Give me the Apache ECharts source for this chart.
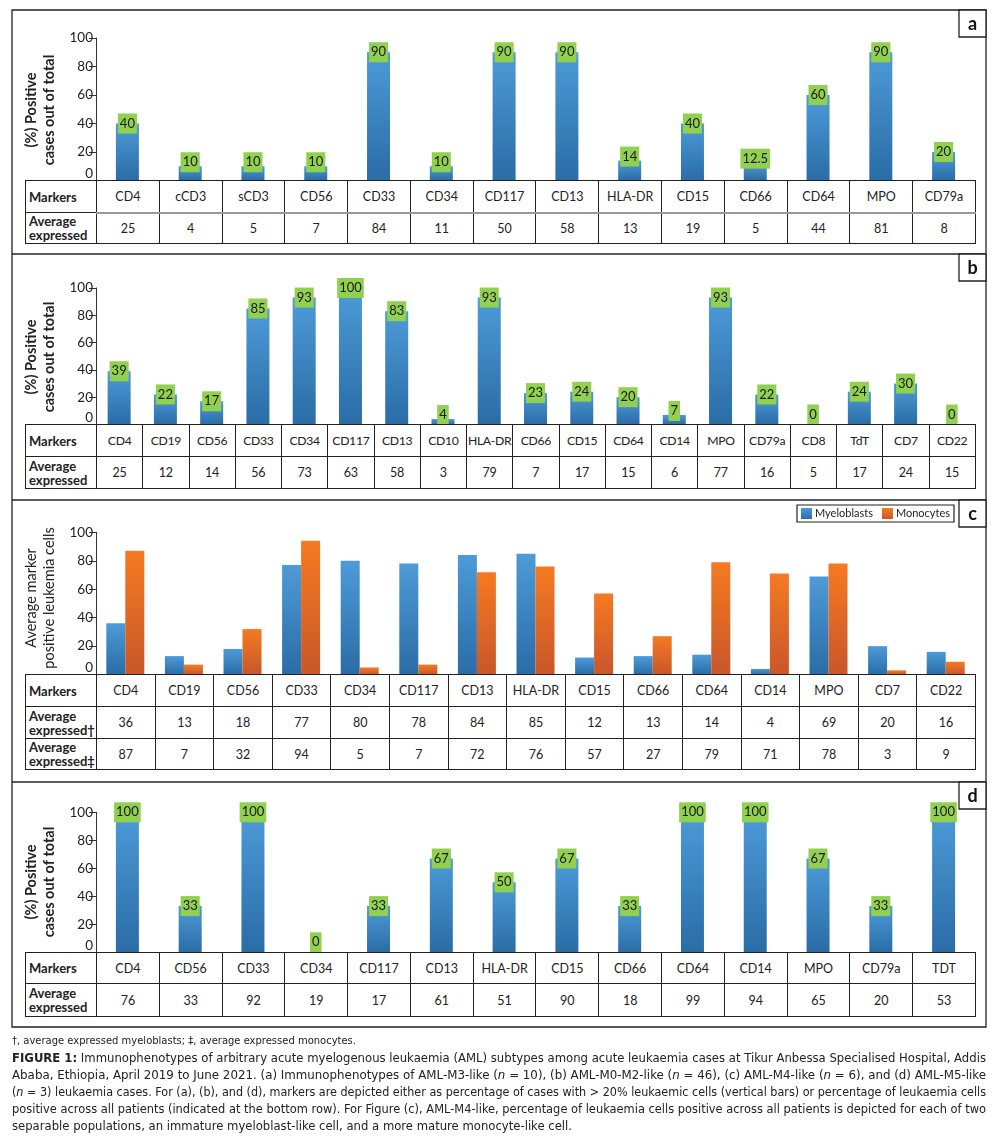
<!DOCTYPE html>
<html>
<head>
<meta charset="utf-8">
<script src="https://cdn.jsdelivr.net/npm/echarts@6/dist/echarts.min.js"></script>
<style>
html, body { margin: 0; padding: 0; background: #fff; }
#wrap { position: relative; width: 1007px; height: 1143px; font-family: Lato, 'Open Sans', sans-serif; color: #222; }
#chart { position: absolute; left: 0; top: 0; width: 1007px; height: 1143px; }
table.mk { position: absolute; left: 25px; border-collapse: collapse; table-layout: fixed; font-size: 12.5px; background: #fff; }
table.mk td { border: 1.3px solid #222; text-align: center; padding: 0; white-space: nowrap; overflow: hidden; }
table.mk td.hd { text-align: left; font-weight: bold; padding-left: 3px; line-height: 14px; font-size: 13px; }
table.mk.tight tr:nth-child(1) td.v { font-size: 12.2px; letter-spacing: -0.3px; }
table.mk.grey tr:nth-child(1) td.v { border-bottom: 2px solid #9a9a9a; }
.note { position: absolute; left: 12px; white-space: nowrap; transform-origin: 0 0; color: #222; font-family: 'Liberation Sans Narrow', 'DejaVu Sans Condensed', 'Noto Sans', sans-serif; font-stretch: condensed; }
</style>
</head>
<body>
<div id="wrap">
  <div id="chart"></div>
</div>
<script>
// panel a: AML-M3-like
const aCats = ['CD4', 'cCD3', 'sCD3', 'CD56', 'CD33', 'CD34', 'CD117', 'CD13', 'HLA-DR', 'CD15', 'CD66', 'CD64', 'MPO', 'CD79a']
const aPos = [40, 10, 10, 10, 90, 10, 90, 90, 14, 40, 12.5, 60, 90, 20]
const aAvg = [25, 4, 5, 7, 84, 11, 50, 58, 13, 19, 5, 44, 81, 8]
// panel b: AML-M0-M2-like
const bCats = ['CD4', 'CD19', 'CD56', 'CD33', 'CD34', 'CD117', 'CD13', 'CD10', 'HLA-DR', 'CD66', 'CD15', 'CD64', 'CD14', 'MPO', 'CD79a', 'CD8', 'TdT', 'CD7', 'CD22']
const bPos = [39, 22, 17, 85, 93, 100, 83, 4, 93, 23, 24, 20, 7, 93, 22, 0, 24, 30, 0]
const bAvg = [25, 12, 14, 56, 73, 63, 58, 3, 79, 7, 17, 15, 6, 77, 16, 5, 17, 24, 15]
// panel c: AML-M4-like
const cCats = ['CD4', 'CD19', 'CD56', 'CD33', 'CD34', 'CD117', 'CD13', 'HLA-DR', 'CD15', 'CD66', 'CD64', 'CD14', 'MPO', 'CD7', 'CD22']
const cMyelo = [36, 13, 18, 77, 80, 78, 84, 85, 12, 13, 14, 4, 69, 20, 16]
const cMono = [87, 7, 32, 94, 5, 7, 72, 76, 57, 27, 79, 71, 78, 3, 9]
// panel d: AML-M5-like
const dCats = ['CD4', 'CD56', 'CD33', 'CD34', 'CD117', 'CD13', 'HLA-DR', 'CD15', 'CD66', 'CD64', 'CD14', 'MPO', 'CD79a', 'TDT']
const dPos = [100, 33, 100, 0, 33, 67, 50, 67, 33, 100, 100, 67, 33, 100]
const dAvg = [76, 33, 92, 19, 17, 61, 51, 90, 18, 99, 94, 65, 20, 53]

const panelLetters = ['a', 'b', 'c', 'd']
const panelTops = [10, 254, 500, 782]
const gridTops = [38, 288, 532.3, 812.3]
const gridHeights = [142.5, 136.5, 142.3, 140]
const yTitles = ['(%) Positive\ncases out of total', '(%) Positive\ncases out of total', 'Average marker\npositive leukemia cells', '(%) Positive\ncases out of total']
const yTitleMid = [110, 357, 598, 882]

const FONT = 'Lato, "Open Sans", sans-serif'
const blueGrad = () => new echarts.graphic.LinearGradient(0, 0, 0, 1, [
  { offset: 0, color: '#4d9bd8' },
  { offset: 1, color: '#2a6ca6' }
])
const orangeGrad = () => new echarts.graphic.LinearGradient(0, 0, 0, 1, [
  { offset: 0, color: '#f57a22' },
  { offset: 1, color: '#c8572a' }
])

// green value boxes sit centred on the bar top, zero values sit on the axis
const withLabels = (vals) => vals.map(v => ({
  value: v,
  label: { distance: v === 0 ? 0 : (v < 15 ? -6 : -10) }
}))
const greenLabel = {
  show: true,
  position: 'top',
  distance: -10,
  backgroundColor: '#92d050',
  padding: [2, 2, 2, 2],
  fontSize: 13,
  lineHeight: 16,
  color: '#1a1a1a',
  fontFamily: FONT
}

const grids = gridTops.map((t, i) => ({ left: 96, right: 32, top: t, height: gridHeights[i] }))
const allCats = [aCats, bCats, cCats, dCats]
const xAxes = allCats.map((c, i) => ({
  type: 'category', gridIndex: i, data: c, show: false
}))
const yAxes = allCats.map((c, i) => ({
  type: 'value', gridIndex: i, min: 0, max: 100, interval: 20,
  axisLine: { show: true, lineStyle: { color: '#333', width: 1 } },
  axisTick: { show: true, length: 7, lineStyle: { color: '#333' } },
  splitLine: { show: false },
  axisLabel: {
    fontSize: 13.5, color: '#222', fontFamily: FONT, margin: 3,
    formatter: v => v === 0 ? '{z|0}' : String(v),
    rich: { z: { fontSize: 13.5, color: '#222', fontFamily: FONT, padding: [0, 0, 14, 0] } }
  }
}))

const series = [
  { type: 'bar', xAxisIndex: 0, yAxisIndex: 0, barWidth: 23, data: withLabels(aPos), itemStyle: { color: blueGrad() }, label: greenLabel },
  { type: 'bar', xAxisIndex: 1, yAxisIndex: 1, barWidth: 23, data: withLabels(bPos), itemStyle: { color: blueGrad() }, label: greenLabel },
  { name: 'Myeloblasts', type: 'bar', xAxisIndex: 2, yAxisIndex: 2, barWidth: 19, barGap: '0%', data: cMyelo, itemStyle: { color: blueGrad() } },
  { name: 'Monocytes', type: 'bar', xAxisIndex: 2, yAxisIndex: 2, barWidth: 19, barGap: '0%', data: cMono, itemStyle: { color: orangeGrad() } },
  { type: 'bar', xAxisIndex: 3, yAxisIndex: 3, barWidth: 23, data: withLabels(dPos), itemStyle: { color: blueGrad() }, label: greenLabel }
]

const graphics = []
// outer frame and panel dividers
graphics.push({ type: 'rect', shape: { x: 12, y: 10, width: 974, height: 1017 }, style: { fill: 'none', stroke: '#222', lineWidth: 1.3 }, z: 10 })
panelTops.slice(1).forEach(t => {
  graphics.push({ type: 'line', shape: { x1: 12, y1: t, x2: 986, y2: t }, style: { stroke: '#222', lineWidth: 1.3 }, z: 10 })
})
panelTops.forEach((t, i) => {
  graphics.push({ type: 'rect', shape: { x: 959, y: t, width: 27, height: 27 }, style: { fill: '#fff', stroke: '#222', lineWidth: 1.3 }, z: 10 })
  graphics.push({ type: 'text', x: 972.5, y: t + 14, z: 11, style: { text: panelLetters[i], fill: '#111', font: 'bold 18px ' + FONT, align: 'center', verticalAlign: 'middle', textAlign: 'center', textVerticalAlign: 'middle' } })
})
yTitles.forEach((txt, i) => {
  const weight = i === 2 ? 'normal' : 'bold'
  graphics.push({
    type: 'text', x: 40, y: yTitleMid[i], rotation: Math.PI / 2, z: 11,
    style: { text: txt, fill: '#222', font: weight + ' 14.5px ' + FONT, lineHeight: 18, align: 'center', verticalAlign: 'middle', textAlign: 'center', textVerticalAlign: 'middle' }
  })
})

const chart = echarts.init(document.getElementById('chart'), null, { renderer: 'canvas' })
chart.setOption({
  animation: false,
  textStyle: { fontFamily: FONT },
  grid: grids,
  xAxis: xAxes,
  yAxis: yAxes,
  legend: {
    data: ['Myeloblasts', 'Monocytes'],
    left: 797, top: 505,
    itemWidth: 11, itemHeight: 11, itemGap: 9,
    icon: 'rect',
    borderColor: '#222', borderWidth: 1.2,
    padding: [3, 4, 3, 4],
    textStyle: { fontSize: 11, color: '#222', fontFamily: FONT, padding: [0, 0, 0, -2] }
  },
  series: series,
  graphic: graphics
})

// tables under each panel, columns matched to the category bands
const wrap = document.getElementById('wrap')
function buildTable (top, cats, rows, rowH, cls) {
  const t = document.createElement('table')
  t.className = 'mk ' + cls
  t.style.top = top + 'px'
  t.style.width = '950px'
  const colW = 879 / cats.length
  let html = '<colgroup><col style="width:71px">' + cats.map(() => '<col style="width:' + colW + 'px">').join('') + '</colgroup>'
  html += '<tr style="height:' + rowH[0] + 'px"><td class="hd">Markers</td>' + cats.map(c => '<td class="v">' + c + '</td>').join('') + '</tr>'
  rows.forEach((r, i) => {
    html += '<tr style="height:' + rowH[i + 1] + 'px"><td class="hd">' + r[0] + '</td>' + r[1].map(v => '<td class="v">' + v + '</td>').join('') + '</tr>'
  })
  t.innerHTML = html
  wrap.appendChild(t)
}
buildTable(180, aCats, [['Average<br>expressed', aAvg]], [32, 31], 'grey')
buildTable(424, bCats, [['Average<br>expressed', bAvg]], [32, 32], 'tight')
buildTable(674, cCats, [['Average<br>expressed&dagger;', cMyelo], ['Average<br>expressed&Dagger;', cMono]], [32, 32, 31], '')
buildTable(952, dCats, [['Average<br>expressed', dAvg]], [31, 33], '')

// footnote and caption
const notes = [
  { y: 1034, size: 10.5, w: 344, html: '&dagger;, average expressed myeloblasts; &Dagger;, average expressed monocytes.' },
  { y: 1050, size: 12.5, w: 974, html: '<b>FIGURE 1:</b> Immunophenotypes of arbitrary acute myelogenous leukaemia (AML) subtypes among acute leukaemia cases at Tikur Anbessa Specialised Hospital, Addis' },
  { y: 1067, size: 12.5, w: 974, html: 'Ababa, Ethiopia, April 2019 to June 2021. (a) Immunophenotypes of AML-M3-like (<i>n</i> = 10), (b) AML-M0-M2-like (<i>n</i> = 46), (c) AML-M4-like (<i>n</i> = 6), and (d) AML-M5-like' },
  { y: 1084, size: 12.5, w: 974, html: '(<i>n</i> = 3) leukaemia cases. For (a), (b), and (d), markers are depicted either as percentage of cases with &gt; 20% leukaemic cells (vertical bars) or percentage of leukaemia cells' },
  { y: 1101, size: 12.5, w: 974, html: 'positive across all patients (indicated at the bottom row). For Figure (c), AML-M4-like, percentage of leukaemia cells positive across all patients is depicted for each of two' },
  { y: 1118, size: 12.5, w: 560, html: 'separable populations, an immature myeloblast-like cell, and a more mature monocyte-like cell.' }
]
notes.forEach(n => {
  const d = document.createElement('div')
  d.className = 'note'
  d.style.top = n.y + 'px'
  d.style.fontSize = n.size + 'px'
  d.innerHTML = n.html
  wrap.appendChild(d)
  const w = d.getBoundingClientRect().width
  d.style.transform = 'scaleX(' + (n.w / w) + ')'
})
</script>
</body>
</html>
